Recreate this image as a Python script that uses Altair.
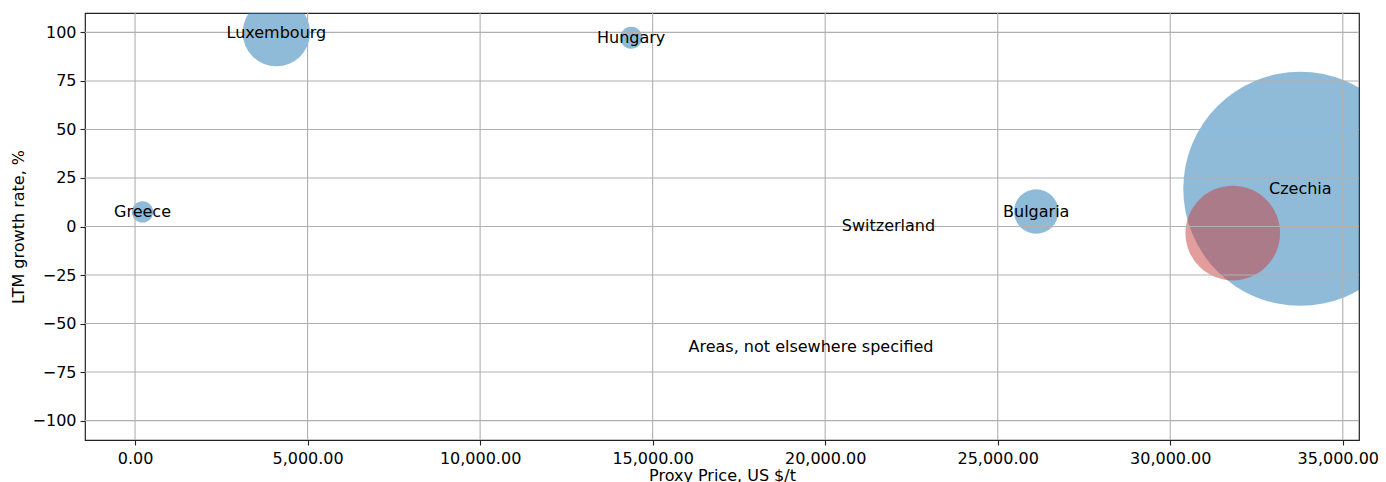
import altair as alt
import pandas as pd

# ---- data ----
countries = ["Greece", "Luxembourg", "Hungary", "Bulgaria", "Czechia",
             "Switzerland", "Areas, not elsewhere specified"]
proxy_price = [217, 4096, 14377, 26116, 33768, 21835, 19589]
growth_rate = [7.5, 99.9, 97.2, 7.7, 19.4, 0.2, -62.0]
bubble_volume = [114, 1136, 121, 493, 13689, 0, 0]

highlight_price = [31812]
highlight_growth = [-3.4]
highlight_volume = [2240]

x_ticks = [0, 5000, 10000, 15000, 20000, 25000, 30000, 35000]
y_ticks = [-100, -75, -50, -25, 0, 25, 50, 75, 100]

df = pd.DataFrame({"country": countries, "price": proxy_price,
                   "growth": growth_rate, "volume": bubble_volume})
hl = pd.DataFrame({"price": highlight_price, "growth": highlight_growth,
                   "volume": highlight_volume})
gx = pd.DataFrame({"price": x_ticks})
gy = pd.DataFrame({"growth": y_ticks})

FONT = "DejaVu Sans"
x_scale = alt.Scale(domain=[-1450, 35470], nice=False, zero=False)
y_scale = alt.Scale(domain=[-110, 110], nice=False, zero=False)
# Vega circle radius = sqrt(size)/2, so size = 4 r^2 (largest bubble r = 117px)
size_scale = alt.Scale(type="linear", domain=[0, max(bubble_volume)],
                       range=[0, 4 * 117 ** 2], zero=True)

x_enc = alt.X("price:Q", scale=x_scale,
              axis=alt.Axis(values=x_ticks, format=",.2f", grid=False,
                            title="Proxy Price, US $/t", tickSize=5,
                            labelPadding=5, titlePadding=1, domain=False,
                            labelOffset={"condition": {"test": f"datum.value === {x_ticks[-1]}",
                                                       "value": -5},
                                         "value": 0}))
y_enc = alt.Y("growth:Q", scale=y_scale,
              axis=alt.Axis(values=y_ticks, format="d", grid=False,
                            title="LTM growth rate, %", tickSize=5,
                            labelPadding=4, titlePadding=6, domain=False))

blue = alt.Chart(df).mark_circle(color="#1f77b4", opacity=0.5, clip=True).encode(
    x=x_enc, y=y_enc,
    size=alt.Size("volume:Q", scale=size_scale, legend=None),
)
red = alt.Chart(hl).mark_circle(color="#c83c3c", opacity=0.5, clip=True).encode(
    x=alt.X("price:Q", scale=x_scale),
    y=alt.Y("growth:Q", scale=y_scale),
    size=alt.Size("volume:Q", scale=size_scale, legend=None),
)
grid_x = alt.Chart(gx).mark_rule(color="#b0b0b0", strokeWidth=1.1).encode(
    x=alt.X("price:Q", scale=x_scale))
grid_y = alt.Chart(gy).mark_rule(color="#b0b0b0", strokeWidth=1.1).encode(
    y=alt.Y("growth:Q", scale=y_scale))
labels = alt.Chart(df).mark_text(font=FONT, fontSize=16, color="black",
                                 align="center", baseline="middle").encode(
    x=alt.X("price:Q", scale=x_scale),
    y=alt.Y("growth:Q", scale=y_scale),
    text="country:N",
)

chart = alt.layer(blue, red, grid_x, grid_y, labels).properties(
    width=1274, height=427,
    autosize=alt.AutoSizeParams(type="none"),
    padding={"left": 77, "top": 5, "right": 19, "bottom": 50},
).configure_view(
    stroke="#222222", strokeWidth=1.2
).configure_axis(
    labelFont=FONT, titleFont=FONT, labelFontSize=16, titleFontSize=16,
    labelColor="black", titleColor="black", tickColor="#222222",
    tickWidth=1.1, titleFontWeight="normal",
)

chart.save("out.html", embed_options={"renderer": "svg", "actions": False})
